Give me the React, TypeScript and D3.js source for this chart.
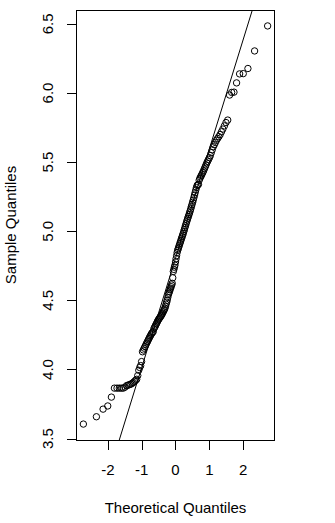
import React from "react";
import * as d3 from "d3";

// Sample values (sorted)
const sampleValues: number[] = [
  3.605, 3.658, 3.713, 3.736, 3.800, 3.865, 3.865,
  3.865, 3.865, 3.865, 3.872, 3.883, 3.887, 3.890,
  3.894, 3.900, 3.906, 3.914, 3.922, 3.929, 3.956,
  3.994, 4.014, 4.028, 4.057, 4.128, 4.141, 4.154,
  4.166, 4.178, 4.190, 4.201, 4.213, 4.223, 4.234,
  4.244, 4.254, 4.262, 4.268, 4.274, 4.294, 4.304,
  4.313, 4.323, 4.332, 4.342, 4.351, 4.360, 4.366,
  4.373, 4.379, 4.386, 4.392, 4.400, 4.408, 4.417,
  4.426, 4.434, 4.443, 4.457, 4.472, 4.487, 4.501,
  4.521, 4.540, 4.552, 4.564, 4.576, 4.588, 4.599,
  4.611, 4.623, 4.663, 4.709, 4.724, 4.740, 4.755,
  4.778, 4.801, 4.823, 4.846, 4.862, 4.874, 4.886,
  4.899, 4.911, 4.923, 4.935, 4.948, 4.960, 4.972,
  4.984, 4.998, 5.012, 5.026, 5.040, 5.054, 5.068,
  5.081, 5.094, 5.107, 5.120, 5.133, 5.147, 5.162,
  5.178, 5.193, 5.209, 5.225, 5.243, 5.261, 5.279,
  5.298, 5.316, 5.331, 5.336, 5.339, 5.369, 5.382,
  5.393, 5.403, 5.414, 5.425, 5.437, 5.451, 5.465,
  5.479, 5.494, 5.506, 5.519, 5.532, 5.547, 5.568,
  5.589, 5.611, 5.626, 5.642, 5.658, 5.671, 5.684,
  5.699, 5.719, 5.739, 5.762, 5.786, 5.804, 5.985,
  6.004, 6.006, 6.073, 6.138, 6.140, 6.177, 6.304,
  6.485,
];

const xTicks: number[] = [-2, -1, 0, 1, 2];
const yTicks: number[] = [3.5, 4.0, 4.5, 5.0, 5.5, 6.0, 6.5];
const yTickLabels: string[] = ["3.5", "4.0", "4.5", "5.0", "5.5", "6.0", "6.5"];
const xTitle = "Theoretical Quantiles";
const yTitle = "Sample Quantiles";

// Inverse standard normal CDF (Acklam)
function qnorm(p: number): number {
  const a = [-3.969683028665376e1, 2.209460984245205e2, -2.759285104469687e2, 1.38357751867269e2, -3.066479806614716e1, 2.506628277459239];
  const b = [-5.447609879822406e1, 1.615858368580409e2, -1.556989798598866e2, 6.680131188771972e1, -1.328068155288572e1];
  const c = [-7.784894002430293e-3, -3.223964580411365e-1, -2.400758277161838, -2.549671750166e0, 4.374664141464968, 2.938163982698783];
  const d = [7.784695709041462e-3, 3.224671290700398e-1, 2.445134137142996, 3.754408661907416];
  const pl = 0.02425;
  let q: number, r: number;
  if (p < pl) {
    q = Math.sqrt(-2 * Math.log(p));
    return (((((c[0] * q + c[1]) * q + c[2]) * q + c[3]) * q + c[4]) * q + c[5]) / ((((d[0] * q + d[1]) * q + d[2]) * q + d[3]) * q + 1);
  }
  if (p > 1 - pl) {
    q = Math.sqrt(-2 * Math.log(1 - p));
    return -(((((c[0] * q + c[1]) * q + c[2]) * q + c[3]) * q + c[4]) * q + c[5]) / ((((d[0] * q + d[1]) * q + d[2]) * q + d[3]) * q + 1);
  }
  q = p - 0.5;
  r = q * q;
  return (((((a[0] * r + a[1]) * r + a[2]) * r + a[3]) * r + a[4]) * r + a[5]) * q / (((((b[0] * r + b[1]) * r + b[2]) * r + b[3]) * r + b[4]) * r + 1);
}

const FONT = "'Liberation Sans', Arial, sans-serif";

export default function App() {
  const n = sampleValues.length;
  const sorted = [...sampleValues].sort((a, b) => a - b);
  const pts = sorted.map((v, i) => ({ x: qnorm((i + 0.5) / n), y: v }));

  const left = 76, right = 275, top = 10, bottom = 440;
  const xr = d3.extent(pts, (p) => p.x) as [number, number];
  const yr = d3.extent(pts, (p) => p.y) as [number, number];
  const xPad = (xr[1] - xr[0]) * 0.04;
  const yPad = (yr[1] - yr[0]) * 0.04;
  const x = d3.scaleLinear().domain([xr[0] - xPad, xr[1] + xPad]).range([left, right]);
  const y = d3.scaleLinear().domain([yr[0] - yPad, yr[1] + yPad]).range([bottom, top]);

  // qqline through the 1st and 3rd quartiles
  const q1 = d3.quantile(sorted, 0.25)!;
  const q3 = d3.quantile(sorted, 0.75)!;
  const t1 = qnorm(0.25), t3 = qnorm(0.75);
  const slope = (q3 - q1) / (t3 - t1);
  const intercept = q1 - slope * t1;
  const [dx0, dx1] = x.domain();
  const lineGen = d3.line<[number, number]>().x((d) => x(d[0])).y((d) => y(d[1]));
  const lineD = lineGen([
    [dx0, intercept + slope * dx0],
    [dx1, intercept + slope * dx1],
  ]);

  return (
    <svg width={335} height={523} style={{ position: "absolute", left: 0, top: 0, background: "#fff" }}>
      <defs>
        <clipPath id="plotclip">
          <rect x={left} y={top} width={right - left} height={bottom - top} />
        </clipPath>
      </defs>
      <rect x={0} y={0} width={335} height={523} fill="#fff" />
      <g clipPath="url(#plotclip)">
        <path d={lineD ?? ""} stroke="#000" strokeWidth={1} fill="none" />
      </g>
      {pts.map((p, i) => (
        <circle key={i} cx={x(p.x)} cy={y(p.y)} r={3.2} fill="none" stroke="#000" strokeWidth={1} />
      ))}
      <rect x={left + 0.5} y={top + 0.5} width={right - left - 1} height={bottom - top} fill="none" stroke="#000" strokeWidth={1} />
      {/* x axis */}
      {xTicks.map((t) => (
        <g key={"xt" + t}>
          <line x1={Math.round(x(t)) + 0.5} x2={Math.round(x(t)) + 0.5} y1={bottom + 0.5} y2={bottom + 10} stroke="#000" strokeWidth={1} />
          <text x={x(t)} y={475} textAnchor="middle" fontFamily={FONT} fontSize={15} fill="#000">
            {t < 0 ? "-" + Math.abs(t) : String(t)}
          </text>
        </g>
      ))}
      {/* y axis */}
      {yTicks.map((t, i) => (
        <g key={"yt" + t}>
          <line x1={left - 9} x2={left + 0.5} y1={Math.round(y(t)) + 0.5} y2={Math.round(y(t)) + 0.5} stroke="#000" strokeWidth={1} />
          <text transform={`translate(53,${y(t)}) rotate(-90)`} textAnchor="middle" fontFamily={FONT} fontSize={15} fill="#000">
            {yTickLabels[i]}
          </text>
        </g>
      ))}
      <text x={(left + right) / 2} y={513} textAnchor="middle" fontFamily={FONT} fontSize={15} fill="#000">
        {xTitle}
      </text>
      <text transform={`translate(16,${(top + bottom) / 2}) rotate(-90)`} textAnchor="middle" fontFamily={FONT} fontSize={15} fill="#000">
        {yTitle}
      </text>
    </svg>
  );
}
